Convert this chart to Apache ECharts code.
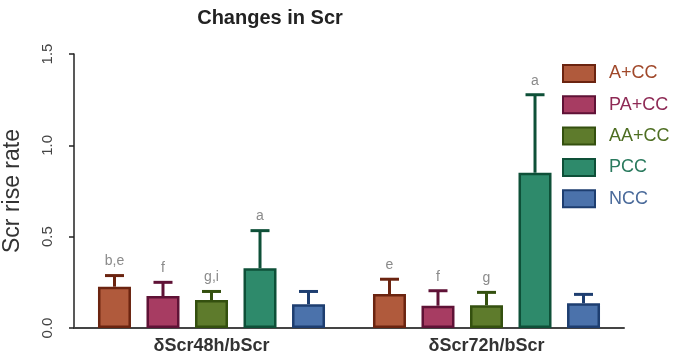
<!DOCTYPE html>
<html>
<head>
<meta charset="utf-8">
<script src="https://cdn.jsdelivr.net/npm/echarts@6/dist/echarts.min.js"></script>
<style>html,body{margin:0;padding:0;background:#fff}#c{width:685px;height:360px}</style>
</head>
<body>
<div id="c"></div>
<script>
var categories = ['δScr48h/bScr', 'δScr72h/bScr'];
var seriesNames = ['A+CC', 'PA+CC', 'AA+CC', 'PCC', 'NCC'];
var meanAPlusCC  = [0.226, 0.186];
var meanPAPlusCC = [0.175, 0.122];
var meanAAPlusCC = [0.153, 0.124];
var meanPCC      = [0.327, 0.850];
var meanNCC      = [0.130, 0.135];
var errTopAPlusCC  = [0.287, 0.267];
var errTopPAPlusCC = [0.250, 0.204];
var errTopAAPlusCC = [0.200, 0.195];
var errTopPCC      = [0.533, 1.277];
var errTopNCC      = [0.200, 0.184];
var sigLabelsAPlusCC  = ['b,e', 'e'];
var sigLabelsPAPlusCC = ['f', 'f'];
var sigLabelsAAPlusCC = ['g,i', 'g'];
var sigLabelsPCC      = ['a', 'a'];
var sigLabelsNCC      = ['', ''];
var yTicks = [0, 0.5, 1.0, 1.5];

var means = [meanAPlusCC, meanPAPlusCC, meanAAPlusCC, meanPCC, meanNCC];
var errTops = [errTopAPlusCC, errTopPAPlusCC, errTopAAPlusCC, errTopPCC, errTopNCC];
var sigs = [sigLabelsAPlusCC, sigLabelsPAPlusCC, sigLabelsAAPlusCC, sigLabelsPCC, sigLabelsNCC];

var fills   = ['#b05a3c', '#a73c62', '#5e7b2c', '#2e8a6b', '#4b72ab'];
var borders = ['#6b2410', '#5f1236', '#34500f', '#0e5038', '#1e3e70'];
var texts   = ['#a0482a', '#8e2a55', '#4e6e22', '#2a7a5e', '#4a6a9a'];

var BAR_W = 33, GAP = 0.47;
var slot = BAR_W * (1 + GAP);

var series = [];
seriesNames.forEach(function (name, i) {
  series.push({
    name: name, type: 'bar', data: means[i], barWidth: BAR_W, barGap: (GAP * 100) + '%',
    itemStyle: { color: fills[i], borderColor: borders[i], borderWidth: 2.5 },
    z: 2
  });
});
seriesNames.forEach(function (name, i) {
  var data = means[i].map(function (m, k) { return [k, m, errTops[i][k], sigs[i][k]]; });
  series.push({
    type: 'custom', name: name + '-err', data: data, z: 3, silent: true,
    encode: { x: 0, y: [1, 2] },
    renderItem: function (params, api) {
      var k = api.value(0);
      var base = api.coord([k, api.value(1)]);
      var top = api.coord([k, api.value(2)]);
      var x = base[0] + (i - 2) * slot;
      var capW = 19;
      var label = data[params.dataIndex][3];
      return {
        type: 'group',
        children: [
          { type: 'line', shape: { x1: x, y1: base[1], x2: x, y2: top[1] }, style: { stroke: borders[i], lineWidth: 3 } },
          { type: 'line', shape: { x1: x - capW / 2, y1: top[1], x2: x + capW / 2, y2: top[1] }, style: { stroke: borders[i], lineWidth: 3 } },
          { type: 'text', style: { text: label, x: x, y: top[1] - 7, textAlign: 'center', textVerticalAlign: 'bottom', fill: '#8a8a8a', font: '14px "Liberation Sans", Arial, sans-serif' } }
        ]
      };
    }
  });
});

var chart = echarts.init(document.getElementById('c'), null, { renderer: 'canvas' });
chart.setOption({
  animation: false,
  backgroundColor: '#fff',
  title: {
    text: 'Changes in Scr', left: 265, top: 3, textAlign: 'center',
    textStyle: { fontFamily: '"Liberation Sans", Arial, sans-serif', fontSize: 20, fontWeight: 'bold', color: '#222' }
  },
  grid: { left: 74, right: 61, top: 54, bottom: 32, containLabel: false, outerBoundsMode: 'none' },
  legend: {
    orient: 'vertical', left: 557, top: 59, itemWidth: 32, itemHeight: 17, itemGap: 12.3, icon: 'rect',
    data: seriesNames.map(function (n, i) { return { name: n, textStyle: { color: texts[i] } }; }),
    textStyle: { fontFamily: '"Liberation Sans", Arial, sans-serif', fontSize: 18, padding: [0, 0, 0, 9] }
  },
  xAxis: {
    type: 'category', data: categories,
    axisLine: { lineStyle: { color: '#444', width: 2 } },
    axisTick: { alignWithLabel: true, length: 5, lineStyle: { color: '#444', width: 1.5 } },
    axisLabel: { fontFamily: '"Liberation Sans", Arial, sans-serif', fontSize: 18, fontWeight: 'bold', color: '#333', margin: 9 }
  },
  yAxis: {
    type: 'value', min: yTicks[0], max: yTicks[yTicks.length - 1], interval: 0.5,
    name: 'Scr rise rate', nameLocation: 'middle', nameGap: 50, nameRotate: 90,
    nameTextStyle: { fontFamily: '"Liberation Sans", Arial, sans-serif', fontSize: 23, color: '#333' },
    axisLine: { show: true, lineStyle: { color: '#222', width: 1.5 } },
    axisTick: { show: true, length: 5, lineStyle: { color: '#222', width: 1.5 } },
    splitLine: { show: false },
    axisLabel: { rotate: 90, margin: 19, fontFamily: '"Liberation Sans", Arial, sans-serif', fontSize: 15, color: '#444',
      formatter: function (v) { return v.toFixed(1); } }
  },
  series: series
});
</script>
</body>
</html>
